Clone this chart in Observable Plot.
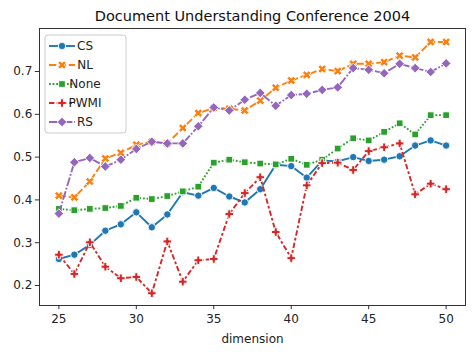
<!DOCTYPE html>
<html><head><meta charset="utf-8">
<script src="https://cdn.jsdelivr.net/npm/d3@7"></script>
<script src="https://cdn.jsdelivr.net/npm/@observablehq/plot@0.6"></script>
<style>body{margin:0;background:#fff}svg{display:block}</style>
</head><body><div id="chart"></div><script>
const dimensions = [25,26,27,28,29,30,31,32,33,34,35,36,37,38,39,40,41,42,43,44,45,46,47,48,49,50];
const methods = ["CS", "NL", "None", "PWMI", "RS"];
const CS   = [0.262,0.272,0.295,0.328,0.343,0.371,0.336,0.366,0.418,0.410,0.428,0.408,0.394,0.425,0.482,0.479,0.452,0.492,0.490,0.500,0.491,0.494,0.502,0.527,0.539,0.527];
const NL   = [0.410,0.406,0.443,0.497,0.510,0.529,0.536,0.532,0.568,0.603,0.615,0.613,0.609,0.632,0.662,0.679,0.692,0.706,0.701,0.718,0.718,0.722,0.737,0.733,0.769,0.769];
const None = [0.379,0.376,0.379,0.381,0.386,0.405,0.402,0.409,0.420,0.431,0.487,0.494,0.488,0.485,0.483,0.496,0.482,0.494,0.520,0.544,0.539,0.559,0.579,0.553,0.598,0.598];
const PWMI = [0.272,0.227,0.301,0.244,0.217,0.220,0.182,0.303,0.209,0.259,0.262,0.367,0.416,0.453,0.325,0.264,0.434,0.486,0.487,0.470,0.514,0.523,0.532,0.413,0.438,0.425];
const RS   = [0.368,0.488,0.498,0.478,0.494,0.519,0.536,0.532,0.532,0.572,0.616,0.609,0.634,0.650,0.620,0.645,0.648,0.657,0.663,0.708,0.704,0.696,0.718,0.708,0.699,0.719];
const xTicks = [25,30,35,40,45,50];
const yTicks = [0.2,0.3,0.4,0.5,0.6,0.7];
const titleText = "Document Understanding Conference 2004";
const xLabel = "dimension";

const seriesValues = {CS, NL, None, PWMI, RS};
const colors = ["#1f77b4","#ff7f0e","#2ca02c","#d62728","#9467bd"];
const dashes = [null, "7.2,2.7", "1.8,1.8", "5.4,2.25,2.7,2.25", "9,1.8,1.8,1.8"];

function poly(pts){ return {draw(ctx, size){ const r = Math.sqrt(size/Math.PI); ctx.moveTo(pts[0][0]*r, pts[0][1]*r); for (let i=1;i<pts.length;i++) ctx.lineTo(pts[i][0]*r, pts[i][1]*r); ctx.closePath(); }}; }
const w = 0.4, e = 1.15;
const plusPts = [[-e,-w],[-w,-w],[-w,-e],[w,-e],[w,-w],[e,-w],[e,w],[w,w],[w,e],[-w,e],[-w,w],[-e,w]];
const s2 = Math.SQRT1_2;
const xPts = plusPts.map(([a,b]) => [(a-b)*s2*1.05, (a+b)*s2*1.05]);
const symCircle = {draw(ctx,size){ const r=Math.sqrt(size/Math.PI); ctx.moveTo(r,0); ctx.arc(0,0,r,0,2*Math.PI); }};
const symSquare = poly([[-0.9,-0.9],[0.9,-0.9],[0.9,0.9],[-0.9,0.9]]);
const symDiamond = poly([[0,-1.3],[1.3,0],[0,1.3],[-1.3,0]]);
const symbols = [symCircle, poly(xPts), symSquare, poly(plusPts), symDiamond];

const rows = [];
methods.forEach(m => seriesValues[m].forEach((v, i) => rows.push({dimension: dimensions[i], method: m, value: v})));

const marks = [];
methods.forEach((m, k) => {
  const data = rows.filter(d => d.method === m);
  marks.push(Plot.line(data, {x: "dimension", y: "value", stroke: colors[k], strokeWidth: 1.9, strokeDasharray: dashes[k] || undefined, strokeLinecap: "butt"}));
  marks.push(Plot.dot(data, {x: "dimension", y: "value", symbol: symbols[k], r: 3.7, fill: colors[k], stroke: "white", strokeWidth: 0.9}));
});

const chart = Plot.plot({
  width: 474, height: 354,
  marginLeft: 39, marginRight: 9, marginTop: 28, marginBottom: 49,
  style: {fontFamily: "DejaVu Sans", fontSize: "12px", color: "#222", background: "white"},
  x: {domain: [23.75, 51.25]},
  y: {domain: [0.1533, 0.8005]},
  marks: [
    ...marks,
    Plot.frame({stroke: "#333", strokeWidth: 1}),
    Plot.axisX({ticks: xTicks, tickSize: 4.2, tickPadding: 5, tickFormat: d => String(d), label: null, fontSize: 12, stroke: "#333"}),
    Plot.axisY({ticks: yTicks, tickSize: 4.2, tickPadding: 3, tickFormat: d3.format(".1f"), label: null, fontSize: 12, stroke: "#333"}),
    Plot.text([titleText], {frameAnchor: "top", dy: -12, fontSize: 14.5, lineAnchor: "middle", fill: "#111"}),
    Plot.text([xLabel], {frameAnchor: "bottom", dy: 33.5, fontSize: 12, lineAnchor: "middle", fill: "#222"})
  ]
});
document.getElementById("chart").appendChild(chart);

// legend inside the axes, top-left
const svg = d3.select(chart);
const lg = svg.append("g").attr("font-family", "DejaVu Sans").attr("font-size", 12);
lg.append("rect").attr("x", 45).attr("y", 35).attr("width", 81).attr("height", 98).attr("rx", 3)
  .attr("fill", "white").attr("fill-opacity", 0.8).attr("stroke", "#ccc").attr("stroke-width", 1);
methods.forEach((m, k) => {
  const y = 46 + k * 19;
  lg.append("line").attr("x1", 49).attr("x2", 75).attr("y1", y).attr("y2", y)
    .attr("stroke", colors[k]).attr("stroke-width", 1.9).attr("stroke-dasharray", dashes[k]);
  lg.append("path").attr("transform", `translate(62,${y})`)
    .attr("d", d3.symbol().type(symbols[k]).size(Math.PI * 3.7 * 3.7)())
    .attr("fill", colors[k]).attr("stroke", "white").attr("stroke-width", 0.9);
  lg.append("text").attr("x", 85).attr("y", y).attr("dy", "0.36em").attr("fill", "#222").text(m);
});
</script></body></html>
